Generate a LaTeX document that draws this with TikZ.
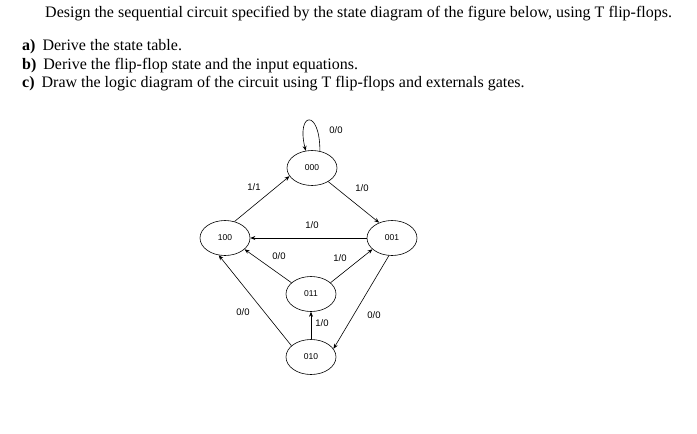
\documentclass[tikz,border=0pt]{standalone}
\usepackage{fontspec}
\setmainfont{Liberation Serif}
\newfontfamily\lsans{Liberation Sans}
\usetikzlibrary{shapes.geometric,arrows.meta}
\begin{document}
\begin{tikzpicture}[x=1pt,y=-1pt,
  st/.style={draw,ellipse,minimum width=50pt,minimum height=35pt,inner sep=0pt,line width=0.6pt,font=\lsans\fontsize{8.5}{9}\selectfont},
  lb/.style={font=\lsans\fontsize{9.5}{10}\selectfont},
  ar/.style={-{Stealth[length=5pt,width=4pt]},line width=0.6pt},
  tx/.style={anchor=west,inner sep=0pt,font=\fontsize{16}{18}\selectfont}]
\useasboundingbox (0,0) rectangle (697,434);
\node[tx] (t0) at (45,14) {Design the sequential circuit specified by the state diagram of the figure below, using T flip-flops.};
\node[tx] (ta) at (22,47) {\textbf{a)}\hspace{7pt}Derive the state table.};
\node[tx] (tb) at (22,66) {\textbf{b)}\hspace{7pt}Derive the flip-flop state and the input equations.};
\node[tx] (tc) at (22,84) {\textbf{c)}\hspace{7pt}Draw the logic diagram of the circuit using T flip-flops and externals gates.};
\node[st] (s000) at (312,168) {000};
\node[st] (s100) at (225,238) {100};
\node[st] (s001) at (392,238) {001};
\node[st] (s011) at (311,294) {011};
\node[st] (s010) at (311,357) {010};
\draw[ar] (s000.65) .. controls (320,108) and (296,112) .. (s000.110);
\node[lb] (l1) at (336,130) {0/0};
\draw[ar] (s100.60) -- (s000.200);
\node[lb] (l2) at (254,187) {1/1};
\draw[ar] (s000.-40) -- (s001.130);
\node[lb] (l3) at (362,188) {1/0};
\draw[ar] (s001.west) -- (s100.east);
\node[lb] (l4) at (312,225) {1/0};
\draw[ar] (s011.150) -- (s100.-30);
\node[lb] (l5) at (279,256) {0/0};
\draw[ar] (s011.30) -- (s001.-150);
\node[lb] (l6) at (340,258) {1/0};
\draw[ar] (s001.-100) -- (s010.20);
\node[lb] (l7) at (374,315) {0/0};
\draw[ar] (s010.north) -- (s011.south);
\node[lb] (l8) at (322,323) {1/0};
\draw[ar] (s010.150) -- (s100.-110);
\node[lb] (l9) at (243,312) {0/0};
\end{tikzpicture}
\end{document}
